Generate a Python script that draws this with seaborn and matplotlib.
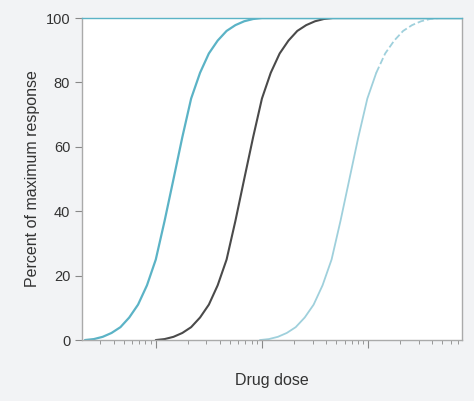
import numpy as np
import matplotlib.pyplot as plt
import seaborn as sns

sns.set_style("white")
plt.rcParams['font.family'] = ['Liberation Sans', 'DejaVu Sans']

curve_resp = [0, 0.3, 1, 2.2, 4, 7, 11, 17, 25, 37, 50,
              63, 75, 83, 89, 93, 96, 97.8, 99, 99.7, 100, 100]
teal_logdose = [-0.667, -0.583, -0.5, -0.417, -0.333, -0.25, -0.167, -0.083, 0.0, 0.083, 0.167,
                0.25, 0.333, 0.417, 0.5, 0.583, 0.667, 0.75, 0.833, 0.917, 1.0, 2.9]
dark_logdose = [0.0, 0.083, 0.167, 0.25, 0.333, 0.417, 0.5, 0.583, 0.667, 0.75, 0.833,
                0.917, 1.0, 1.083, 1.167, 1.25, 1.333, 1.417, 1.5, 1.583, 1.667, 2.9]
light_logdose = [0.981, 1.065, 1.15, 1.234, 1.318, 1.403, 1.487, 1.571, 1.656, 1.74, 1.824,
                 1.908, 1.993, 2.077, 2.161, 2.246, 2.33, 2.414, 2.499, 2.583, 2.667, 2.9]
light_solid_n = 14  # dashed from here on

fig, ax = plt.subplots(figsize=(4.74, 4.01), dpi=100)
fig.patch.set_facecolor("#f2f3f5")
ax.set_facecolor("white")

sns.lineplot(x=10**np.array(dark_logdose), y=curve_resp, ax=ax, color="#4a4a4a", lw=1.5)
sns.lineplot(x=10**np.array(light_logdose[:light_solid_n]), y=curve_resp[:light_solid_n],
             ax=ax, color="#9fd0dc", lw=1.3)
sns.lineplot(x=10**np.array(light_logdose[light_solid_n - 1:]), y=curve_resp[light_solid_n - 1:],
             ax=ax, color="#9fd0dc", lw=1.3, linestyle="--")
sns.lineplot(x=10**np.array(teal_logdose), y=curve_resp, ax=ax, color="#5bb3c6", lw=1.6)

ax.set_xscale("log")
ax.set_xlim(10**-0.695, 10**2.886)
ax.set_ylim(0, 100)
ax.set_yticks([0, 20, 40, 60, 80, 100])
ax.set_xticklabels([], minor=True)
ax.set_xticklabels([])
ax.tick_params(axis="x", which="major", direction="out", length=6, color="#888888", bottom=True)
ax.tick_params(axis="x", which="minor", direction="out", length=3, color="#888888", bottom=True)
ax.tick_params(axis="y", left=True, length=5, color="#888888", labelsize=10.5, labelcolor="#333333")
for s in ax.spines.values():
    s.set_color("#aaaaaa")
    s.set_linewidth(1)
ax.spines["top"].set_color("#5bb3c6")
ax.set_xlabel("Drug dose", fontsize=11.5, color="#333333", labelpad=14)
ax.set_ylabel("Percent of maximum response", fontsize=11.5, color="#333333")

fig.subplots_adjust(left=0.173, right=0.975, top=0.955, bottom=0.152)
fig.savefig("out.png", dpi=100, facecolor=fig.get_facecolor())
